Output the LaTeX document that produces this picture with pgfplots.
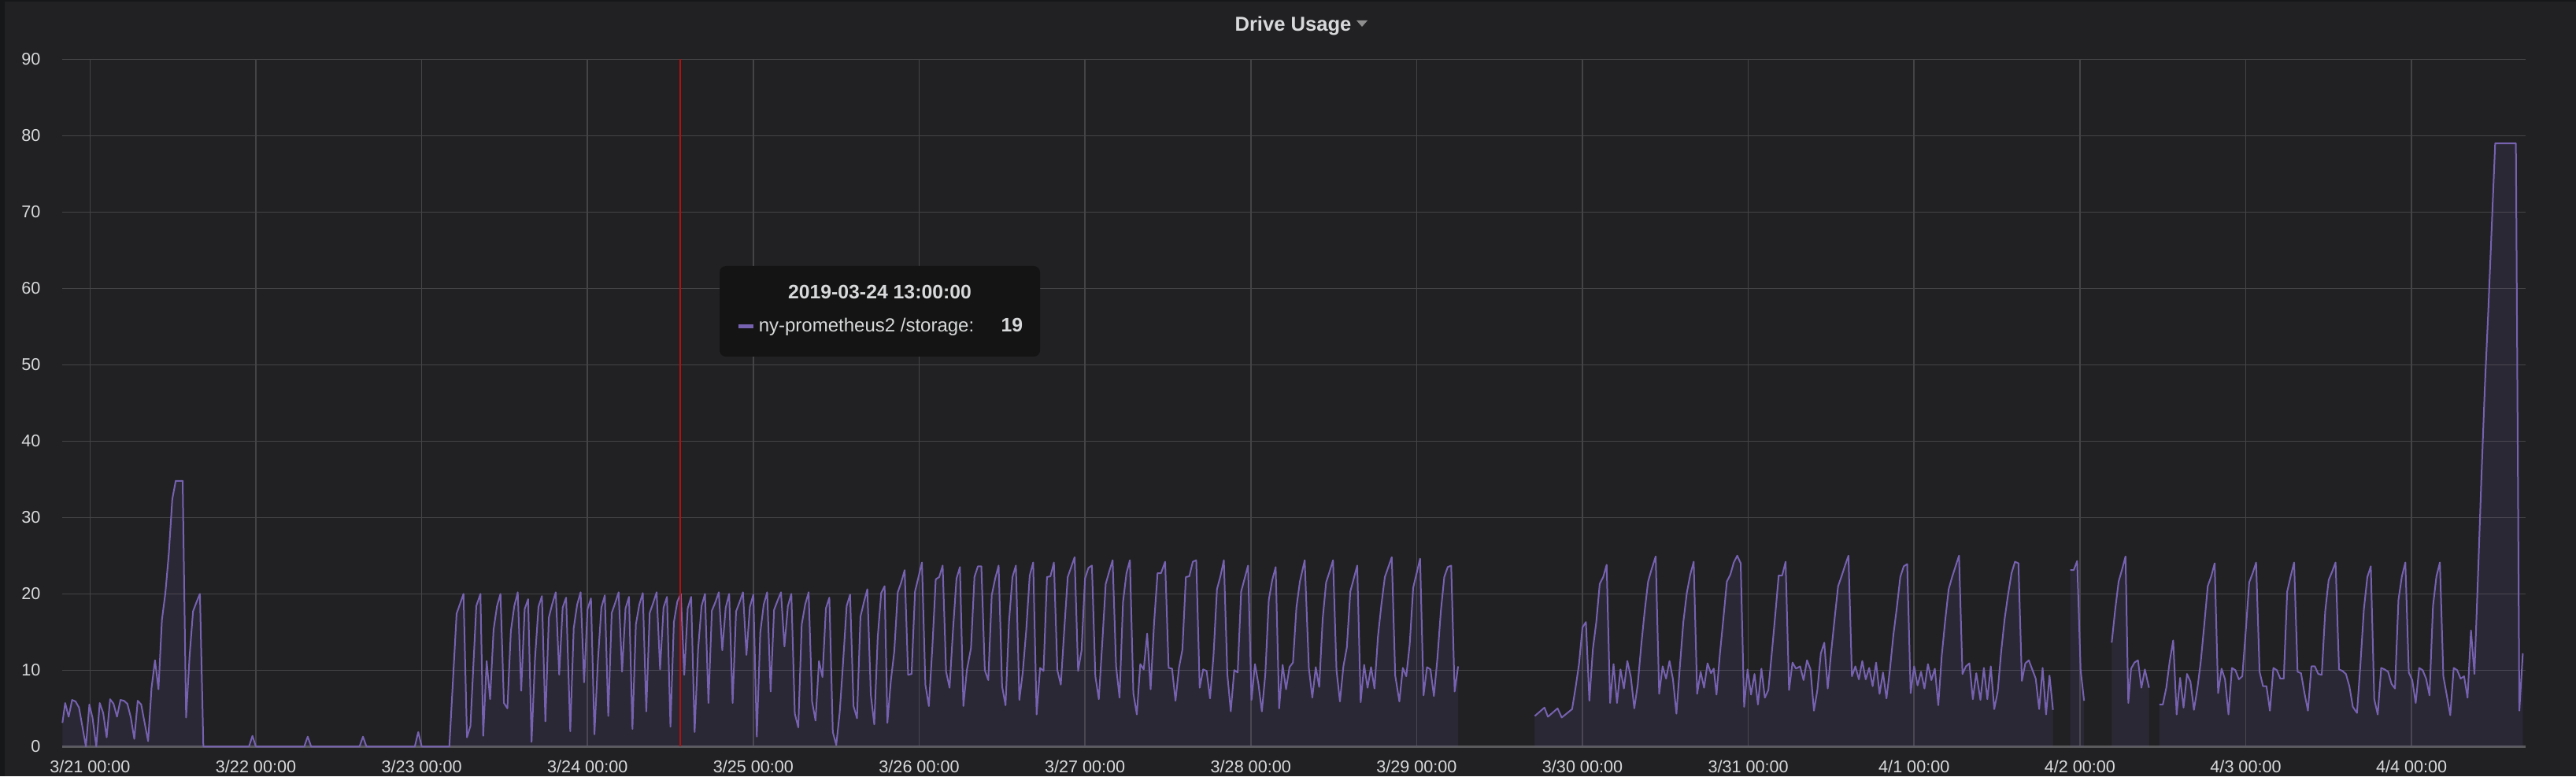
\documentclass[border=0pt]{standalone}
\usepackage{pgfplots}
\pgfplotsset{compat=1.18}
\usepackage{pgfplotstable}
\usepackage{fontspec}
\setmainfont{Liberation Sans}
\definecolor{bg}{HTML}{212124}
\definecolor{edge}{HTML}{161719}
\definecolor{gridc}{HTML}{444447}
\definecolor{zeroc}{HTML}{5A5A5D}
\definecolor{lc}{HTML}{7662B0}
\definecolor{txt}{HTML}{D8D9DA}
\definecolor{redl}{HTML}{B3100E}
\definecolor{tipbg}{HTML}{141414}
\definecolor{caret}{HTML}{8E8E8E}

\pgfplotstableread{
h v
-4.0 3.1
-3.6 5.7
-3.1 3.9
-2.6 6.1
-2.1 5.9
-1.6 5.1
-0.6 0
-0.1 5.5
0.35 3.8
0.9 0
1.4 5.7
1.9 4.4
2.4 1.2
2.9 6.2
3.4 5.6
3.9 3.9
4.4 6.1
4.9 6.0
5.4 5.6
5.9 3.8
6.4 1.0
6.9 6.0
7.4 5.5
8.4 0.7
8.9 7.7
9.4 11.3
9.9 7.5
10.4 16.6
10.9 20.1
11.4 25.3
11.9 32.4
12.4 34.8
13.4 34.8
13.9 3.8
14.4 11.8
14.9 17.7
15.4 18.9
15.9 20.0
16.4 0
23.0 0
23.5 1.4
24.0 0
31.0 0
31.5 1.3
32.0 0
39.0 0
39.5 1.3
40.0 0
47.0 0
47.5 1.9
48.0 0
52.0 0
53.05 17.4
54.05 20.0
54.55 1.2
55.05 2.7
55.9 18.4
56.5 20.0
56.9 1.4
57.4 11.2
57.9 6.2
58.4 15.3
58.9 18.4
59.4 20.0
59.9 5.7
60.4 5.0
60.9 15.1
61.4 18.4
61.9 20.2
62.4 7.3
62.9 18.0
63.4 19.3
63.9 0.6
64.4 11.5
64.9 18.3
65.4 19.7
65.9 3.3
66.4 16.9
66.9 18.7
67.4 20.2
67.9 9.4
68.4 18.2
68.9 19.5
69.5 2.0
70.0 15.5
70.5 18.6
71.0 20.2
71.5 8.4
72.0 18.0
72.5 19.4
73.0 1.6
73.5 11.2
74.0 18.2
74.5 19.8
75.0 4.0
75.5 17.5
76.0 18.8
76.5 20.2
77.0 9.8
77.5 18.1
78.0 19.6
78.5 2.3
79.0 16.0
79.5 18.6
80.0 20.1
80.5 4.6
81.0 17.5
81.5 18.8
82.0 20.2
82.5 10.1
83.0 18.2
83.5 19.6
84.0 2.6
84.5 16.3
85.0 19.0
85.5 20.0
86.0 9.4
86.5 18.1
87.0 19.6
87.5 1.9
88.0 12.7
88.5 18.4
89.0 20.0
89.5 5.7
90.0 17.8
90.5 18.9
91.0 20.2
91.5 12.6
92.0 18.2
92.5 20.0
93.0 5.7
93.5 17.7
94.0 18.9
94.5 20.2
95.0 12.0
95.5 18.3
96.0 19.9
96.5 1.3
97.0 14.9
97.5 18.6
98.0 20.2
98.5 7.2
99.0 17.9
99.5 19.1
100.0 20.2
100.5 13.1
101.0 18.4
101.5 20.0
102.0 4.3
102.5 2.5
103.0 16.0
103.5 18.6
104.0 20.2
104.5 5.9
105.0 3.4
105.5 11.2
106.0 9.1
106.5 18.1
107.0 19.5
107.5 1.9
108.0 0.2
108.5 4.5
109.0 11.2
109.5 18.4
110.0 19.9
110.5 5.3
111.0 3.7
111.5 17.0
112.0 18.9
112.5 20.6
113.0 6.8
113.5 2.9
114.0 14.3
114.5 20.1
115.0 21.0
115.4 3.1
115.9 8.6
116.4 12.5
116.9 20.2
117.4 21.5
117.9 23.1
118.4 9.4
118.9 9.5
119.4 20.3
119.9 22.2
120.4 24.1
120.9 8.1
121.4 5.3
121.9 12.9
122.4 21.9
122.9 22.2
123.4 23.7
123.9 9.8
124.4 7.7
124.9 15.3
125.4 22.0
125.9 23.5
126.4 5.3
126.9 10.0
127.5 12.9
128.0 22.2
128.5 23.6
129.0 23.6
129.5 10.0
130.0 8.7
130.5 19.8
131.0 22.0
131.5 23.7
132.0 7.9
132.5 5.4
133.0 16.3
133.5 22.2
134.0 23.7
134.5 6.1
135.0 9.8
135.5 15.3
136.0 22.4
136.5 24.1
137.0 4.2
137.5 10.3
138.0 9.9
138.5 22.2
139.0 22.3
139.5 24.1
140.0 10.0
140.5 8.1
141.0 15.3
141.5 22.2
142.0 23.5
142.5 24.8
143.0 9.9
143.5 12.6
144.0 22.0
144.5 23.4
145.0 23.7
145.5 9.2
146.0 6.2
146.5 13.6
147.0 21.3
147.5 22.9
148.0 24.4
148.5 10.5
149.0 6.4
149.5 18.9
150.0 22.7
150.5 24.4
151.0 7.0
151.5 4.2
152.0 10.8
152.5 10.1
153.0 14.8
153.5 7.5
154.0 16.2
154.5 22.7
155.0 22.7
155.6 24.2
156.1 10.3
156.6 10.2
157.1 6.0
157.6 10.3
158.1 12.7
158.6 22.2
159.1 22.3
159.6 24.2
160.1 24.4
160.6 7.7
161.1 10.1
161.6 9.9
162.1 6.3
162.6 11.9
163.1 20.6
163.6 22.3
164.1 24.4
164.6 9.5
165.1 4.6
165.6 10.0
166.1 9.7
166.6 20.3
167.1 22.0
167.6 23.7
168.1 6.1
168.6 10.8
169.1 8.2
169.6 4.6
170.1 9.5
170.6 19.2
171.1 21.8
171.6 23.5
172.1 5.0
172.6 10.7
173.1 7.5
173.6 10.4
174.1 11.0
174.6 18.2
175.1 21.6
175.8 24.4
176.4 10.3
176.9 6.4
177.4 10.4
177.9 7.8
178.4 16.7
178.9 21.5
179.4 22.9
179.9 24.4
180.4 10.0
180.9 5.9
181.4 10.5
181.9 13.0
182.4 20.3
182.9 22.0
183.4 23.7
183.9 5.8
184.4 10.7
184.9 7.7
185.4 10.4
185.9 7.6
186.4 14.4
186.9 18.6
187.4 22.2
187.9 23.5
188.4 24.8
188.9 9.3
189.5 5.9
190.0 10.3
190.5 9.2
191.0 13.4
191.5 20.8
192.0 22.7
192.5 24.6
193.0 6.7
193.5 10.4
194.0 10.1
194.5 6.6
195.0 11.5
195.5 17.7
196.0 22.2
196.5 23.5
197.0 23.7
197.5 7.2
198.0 10.5
}\segA

\pgfplotstableread{
h v
209.1 4.0
210.5 5.1
211.0 3.9
212.4 5.0
213.0 3.8
214.5 4.9
215.0 7.7
215.5 10.8
216.0 15.6
216.5 16.3
217.0 6.0
217.5 12.7
218.0 16.3
218.5 21.3
219.0 22.2
219.5 23.8
220.0 5.7
220.5 10.8
221.0 5.7
221.5 10.1
222.0 7.6
222.5 11.2
223.0 9.1
223.5 5.0
224.0 8.1
224.5 13.2
225.0 17.7
225.5 21.6
226.0 23.2
226.6 24.9
227.1 6.9
227.6 10.5
228.1 8.9
228.6 11.2
229.1 8.8
229.6 4.3
230.1 10.5
230.6 16.3
231.1 20.1
231.6 22.5
232.1 24.2
232.6 6.9
233.1 9.8
233.6 7.7
234.1 10.9
234.6 9.6
235.0 10.2
235.4 6.8
235.9 12.2
236.4 16.8
236.9 21.6
237.4 22.5
237.9 24.1
238.4 25.0
238.9 24.0
239.4 5.2
239.9 10.1
240.4 6.8
240.9 9.5
241.4 5.5
241.9 10.2
242.4 6.4
242.9 7.4
243.4 12.2
243.9 17.2
244.4 22.4
244.9 22.4
245.4 24.2
245.9 7.4
246.4 11.0
246.9 10.2
247.5 10.5
248.0 8.7
248.5 11.3
249.0 10.1
249.5 4.7
250.0 7.4
250.5 12.2
251.0 13.6
251.5 7.6
252.0 12.4
252.5 16.8
253.0 21.0
253.5 22.3
254.0 23.7
254.5 25.0
255.0 9.2
255.5 10.5
256.0 8.8
256.5 11.2
257.0 8.8
257.5 10.3
258.0 7.9
258.5 11.0
259.0 6.9
259.5 9.7
260.0 6.3
260.5 10.1
261.0 14.6
261.5 18.2
262.0 22.2
262.5 23.6
263.0 23.9
263.5 7.0
264.0 10.5
264.5 8.0
265.0 9.8
265.5 7.6
266.0 10.8
266.5 8.7
267.0 10.2
267.5 5.4
268.0 11.9
268.5 16.5
269.0 20.6
269.5 22.2
270.0 23.6
270.5 25.0
271.0 9.5
271.5 10.5
272.0 10.9
272.5 6.2
273.0 9.6
273.6 6.1
274.1 10.3
274.6 6.2
275.1 10.5
275.6 4.9
276.1 7.2
276.6 12.4
277.1 16.7
277.6 19.9
278.1 22.7
278.6 24.2
279.1 24.0
279.6 8.6
280.1 10.9
280.6 11.3
281.1 10.1
281.6 8.9
282.1 4.9
282.6 10.3
283.1 4.2
283.6 9.3
284.1 4.8
}\segB

\pgfplotstableread{
h v
286.6 23.1
287.1 23.1
287.6 24.3
288.1 10.0
288.6 6.0
}\segC

\pgfplotstableread{
h v
292.6 13.6
293.1 17.9
293.6 21.6
294.1 23.2
294.6 24.9
295.0 5.7
295.4 10.2
295.9 11.0
296.4 11.3
296.9 7.7
297.4 10.1
298.0 7.7
}\segD

\pgfplotstableread{
h v
299.5 5.5
300.0 5.5
300.5 7.7
301.0 11.2
301.5 13.9
302.0 4.2
302.5 9.0
303.0 5.1
303.5 9.5
304.0 8.5
304.5 4.8
305.0 7.6
305.5 11.2
306.0 16.0
306.5 21.0
307.0 22.3
307.5 24.0
308.0 7.0
308.5 10.2
309.0 8.8
309.5 4.2
310.0 10.3
310.5 10.0
311.0 8.8
311.5 9.2
312.0 15.1
312.5 21.5
313.0 22.7
313.5 24.1
314.0 9.8
314.5 7.9
315.0 7.9
315.5 4.7
316.0 10.3
316.5 10.0
317.0 8.9
317.5 8.9
318.0 20.3
318.5 22.3
319.0 24.1
319.5 9.8
320.0 9.6
320.5 7.0
321.0 4.7
321.5 10.5
322.0 10.5
322.5 9.5
323.0 9.4
323.5 17.7
324.0 21.8
324.5 22.9
325.0 24.1
325.5 10.1
326.0 9.9
326.5 9.5
327.0 7.9
327.5 5.2
328.1 4.4
328.6 10.8
329.1 18.0
329.6 22.2
330.1 23.6
330.6 6.2
331.1 4.2
331.6 10.3
332.1 10.1
332.6 9.8
333.1 8.2
333.6 7.6
334.1 19.2
334.6 22.3
335.1 24.1
335.6 9.7
336.1 8.7
336.6 5.7
337.1 10.3
337.6 10.0
338.1 8.9
338.6 6.7
339.1 18.4
339.6 22.3
340.1 24.1
340.6 9.2
341.1 6.7
341.6 4.1
342.1 10.3
342.6 10.0
343.1 8.9
343.6 9.2
344.1 6.4
344.6 15.2
345.1 9.5
345.6 22
346.1 35
346.6 47
347.1 57
347.6 68
348.1 79
351.1 79
351.6 4.7
352.1 12.2
}\segE

\begin{document}
\begin{tikzpicture}
\fill[bg] (0,0) rectangle (818pt,246.5pt);
\fill[edge] (0,0) rectangle (1.5pt,246.5pt);
\fill[edge] (0,246pt) rectangle (818pt,246.5pt);
\begin{axis}[
  at={(19.825pt,9.425pt)}, anchor=south west,
  scale only axis, width=782.15pt, height=218.25pt,
  xmin=-4, xmax=352.5, ymin=0, ymax=90,
  axis line style={draw=none},
  major tick length=0pt,
  grid=major,
  grid style={color=gridc, line width=0.4pt},
  xtick={0,24,...,336},
  xticklabels={3/21 00:00,3/22 00:00,3/23 00:00,3/24 00:00,3/25 00:00,3/26 00:00,3/27 00:00,3/28 00:00,3/29 00:00,3/30 00:00,3/31 00:00,4/1 00:00,4/2 00:00,4/3 00:00,4/4 00:00},
  ytick={0,10,...,90},
  /pgf/number format/assume math mode=true,
  tick label style={font=\fontsize{5.4}{6}\selectfont, text=txt},
  xticklabel style={anchor=base, inner sep=0pt, yshift=-8.4pt},
  yticklabel style={anchor=east, inner sep=0pt, xshift=-6.8pt},
  extra y ticks={0},
  extra y tick labels={},
  extra y tick style={grid style={color=zeroc, line width=0.6pt}},
  clip=false,
]
\addplot[draw=none, fill=lc, fill opacity=0.12, forget plot] table[x=h,y=v] {\segA} \closedcycle;
\addplot[draw=none, fill=lc, fill opacity=0.12, forget plot] table[x=h,y=v] {\segB} \closedcycle;
\addplot[draw=none, fill=lc, fill opacity=0.12, forget plot] table[x=h,y=v] {\segC} \closedcycle;
\addplot[draw=none, fill=lc, fill opacity=0.12, forget plot] table[x=h,y=v] {\segD} \closedcycle;
\addplot[draw=none, fill=lc, fill opacity=0.12, forget plot] table[x=h,y=v] {\segE} \closedcycle;
\addplot[lc, line width=0.5pt, line join=round, mark=none] table[x=h,y=v] {\segA};
\addplot[lc, line width=0.5pt, line join=round, mark=none] table[x=h,y=v] {\segB};
\addplot[lc, line width=0.5pt, line join=round, mark=none] table[x=h,y=v] {\segC};
\addplot[lc, line width=0.5pt, line join=round, mark=none] table[x=h,y=v] {\segD};
\addplot[lc, line width=0.5pt, line join=round, mark=none] table[x=h,y=v] {\segE};
\addplot[redl, line width=0.5pt, mark=none] coordinates {(85.45,0) (85.45,90)};
\end{axis}
\begin{scope}[x=0.25pt, y=-0.25pt, shift={(0pt,246.5pt)}]
  \node[anchor=base, inner sep=0pt, text=txt, font=\bfseries\fontsize{6.4}{7}\selectfont] at (1642.5,39.3) {Drive Usage};
  \fill[caret] (1723,26) -- (1737,26) -- (1730,34) -- cycle;
  \fill[tipbg, rounded corners=2pt] (914,338) rectangle (1321,453);
  \node[anchor=base, inner sep=0pt, text=txt, font=\bfseries\fontsize{6.2}{7}\selectfont] at (1117.5,380) {2019-03-24 13:00:00};
  \draw[lc, line width=1.25pt] (938,415) -- (957,415);
  \node[anchor=base west, inner sep=0pt, text=txt, font=\fontsize{6.0}{7}\selectfont] at (963,421.7) {ny-prometheus2 /storage:};
  \node[anchor=base east, inner sep=0pt, text=txt, font=\bfseries\fontsize{6.2}{7}\selectfont] at (1300,421.7) {19};
\end{scope}
\pgfresetboundingbox
\useasboundingbox (0,0) rectangle (818pt,246.5pt);
\end{tikzpicture}
\end{document}
